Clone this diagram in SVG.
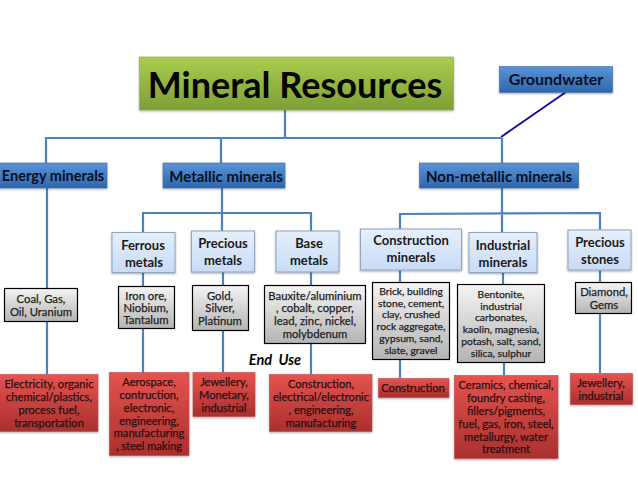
<svg xmlns="http://www.w3.org/2000/svg" width="638" height="479" viewBox="0 0 638 479">
<style>
text{font-family:Lato,"Liberation Sans",sans-serif;text-anchor:middle;fill:#111}
.blue{fill:url(#gb);stroke:#3f6da5;stroke-width:.6;filter:url(#sh)}
.lite{fill:url(#gl);stroke:#8ea4bf;stroke-width:1;filter:url(#sh)}
.grey{fill:url(#gg);stroke:#000;stroke-width:1.2}
.red{fill:url(#gr);stroke:#c04a48;stroke-width:.6;filter:url(#sh)}
.h{font-size:15px;font-weight:700;fill:#06101f}
.m{font-size:13px;font-weight:700;fill:#1a1a1a}
.g{font-size:11.300px;font-weight:400;fill:#222;stroke:#222;stroke-width:.25}
.s{font-size:10.300px;font-weight:400;fill:#222;stroke:#222;stroke-width:.25}
.r{font-size:11.100px;font-weight:400;fill:#2a1010;stroke:#2a1010;stroke-width:.25}
.c{fill:none;stroke:#4f81bd;stroke-width:2.2}
</style>
<defs>
<linearGradient id="gb" x1="0" y1="0" x2="0" y2="1"><stop offset="0" stop-color="#5b93d8"/><stop offset="1" stop-color="#2f66ab"/></linearGradient>
<linearGradient id="gl" x1="0" y1="0" x2="0" y2="1"><stop offset="0" stop-color="#e6effb"/><stop offset="1" stop-color="#c8dbf5"/></linearGradient>
<linearGradient id="gg" x1="0" y1="0" x2="0" y2="1"><stop offset="0" stop-color="#f4f4f4"/><stop offset="1" stop-color="#b4b4b4"/></linearGradient>
<linearGradient id="gr" x1="0" y1="0" x2="0" y2="1"><stop offset="0" stop-color="#e65350"/><stop offset="1" stop-color="#a92f2d"/></linearGradient>
<linearGradient id="gt" x1="0" y1="0" x2="0" y2="1"><stop offset="0" stop-color="#a9cd4e"/><stop offset="1" stop-color="#7f9f35"/></linearGradient>
<filter id="sh" x="-10%" y="-10%" width="120%" height="125%"><feDropShadow dx="0" dy="1" stdDeviation="1" flood-color="#000" flood-opacity=".35"/></filter>
</defs>
<rect width="638" height="479" fill="#fff"/>
<g id="connectors">
<path class="c" d="M285 108V138M46 163V138H501M221 138V163M502 138V163"/>
<path d="M566 92L501 137" fill="none" stroke="#10109a" stroke-width="2"/>
<path class="c" d="M222 188V232M143 232V213H311V232"/>
<path class="c" d="M502 188V232M400 229V214L600 213V230"/>
<path class="c" d="M47 188V288M47 322V374"/>
<path class="c" d="M143 272V286M143 329V373"/>
<path class="c" d="M223 272V285M223 330V372"/>
<path class="c" d="M311 272V285M311 343V374"/>
<path class="c" d="M400 270V282M400 359V378"/>
<path class="c" d="M503 272V284M504 362V375"/>
<path class="c" d="M600 270V282M600 314V373"/>
</g>
<g id="mineral-resources"><rect x="139.500" y="57" width="314" height="53" fill="url(#gt)" stroke="#8fae3e" stroke-width=".6" filter="url(#sh)"/><text x="295" y="98" style="font-size:36px;font-weight:700;fill:#050505">Mineral Resources</text></g>
<g id="groundwater"><rect class="blue" x="499.500" y="66.500" width="113" height="26"/><text class="h" x="556" y="85" style="font-size:16px">Groundwater</text></g>
<g id="energy-minerals"><rect class="blue" x="-3" y="163" width="110" height="25"/><text class="h" x="53" y="181" style="font-size:14.500px">Energy minerals</text></g>
<g id="metallic-minerals"><rect class="blue" x="163" y="163" width="122" height="25"/><text class="h" x="226" y="182">Metallic minerals</text></g>
<g id="non-metallic-minerals"><rect class="blue" x="419.500" y="163" width="159" height="25"/><text class="h" x="499" y="182">Non-metallic minerals</text></g>

<g id="ferrous-metals"><rect class="lite" x="112" y="232.500" width="63" height="40"/><text class="m" x="143" y="250">Ferrous</text><text class="m" x="144" y="267">metals</text></g>
<g id="precious-metals"><rect class="lite" x="191.500" y="231" width="63" height="41"/><text class="m" x="223" y="248">Precious</text><text class="m" x="223" y="265">metals</text></g>
<g id="base-metals"><rect class="lite" x="276" y="231" width="63" height="41"/><text class="m" x="309" y="248">Base</text><text class="m" x="309" y="265">metals</text></g>
<g id="construction-minerals"><rect class="lite" x="360.500" y="229" width="101" height="41"/><text class="m" x="411" y="245">Construction</text><text class="m" x="411" y="262">minerals</text></g>
<g id="industrial-minerals"><rect class="lite" x="469" y="232.500" width="68" height="40"/><text class="m" x="503" y="250">Industrial</text><text class="m" x="503" y="267">minerals</text></g>
<g id="precious-stones"><rect class="lite" x="568" y="230" width="63" height="40"/><text class="m" x="600" y="247">Precious</text><text class="m" x="600" y="264">stones</text></g>

<g id="energy-sources"><rect class="grey" x="4.500" y="288.500" width="73" height="33"/><text class="g" x="41" y="303">Coal, Gas,</text><text class="g" x="41" y="316">Oil, Uranium</text></g>
<g id="ferrous-sources"><rect class="grey" x="118.500" y="286.500" width="56" height="42"/><text class="g" x="146" y="300">Iron ore,</text><text class="g" x="146" y="312">Niobium,</text><text class="g" x="146" y="324">Tantalum</text></g>
<g id="precious-sources"><rect class="grey" x="192.500" y="285.500" width="56" height="45"/><text class="g" x="220" y="300">Gold,</text><text class="g" x="220" y="312">Silver,</text><text class="g" x="220" y="325">Platinum</text></g>
<g id="base-sources"><rect class="grey" x="264.500" y="285.500" width="101" height="58"/><text class="g" x="315" y="300">Bauxite/aluminium</text><text class="g" x="315" y="312">, cobalt, copper,</text><text class="g" x="315" y="325">lead, zinc, nickel,</text><text class="g" x="315" y="338">molybdenum</text></g>
<g id="construction-sources"><rect class="grey" x="372.500" y="282.500" width="77" height="77"/><text class="s" x="411" y="295">Brick, building</text><text class="s" x="411" y="307">stone, cement,</text><text class="s" x="411" y="318">clay, crushed</text><text class="s" x="411" y="330">rock aggregate,</text><text class="s" x="411" y="342">gypsum,  sand,</text><text class="s" x="411" y="354">slate, gravel</text></g>
<g id="industrial-sources"><rect class="grey" x="457.500" y="284.500" width="87" height="78"/><text class="s" x="501" y="298">Bentonite,</text><text class="s" x="501" y="310">industrial</text><text class="s" x="501" y="321">carbonates,</text><text class="s" x="501" y="333">kaolin, magnesia,</text><text class="s" x="501" y="345">potash, salt, sand,</text><text class="s" x="501" y="357">silica, sulphur</text></g>
<g id="stones-sources"><rect class="grey" x="575.500" y="282.500" width="56" height="31"/><text class="g" x="604" y="296">Diamond,</text><text class="g" x="604" y="309">Gems</text></g>

<g id="end-use-label"><text x="275" y="365" style="font-size:14.500px;font-weight:700;font-style:italic;fill:#050505" xml:space="preserve">End  Use</text></g>

<g id="energy-use"><rect class="red" x="-1" y="374.500" width="99" height="57"/><text class="r" x="49" y="388">Electricity, organic</text><text class="r" x="49" y="401">chemical/plastics,</text><text class="r" x="49" y="414">process fuel,</text><text class="r" x="49" y="427">transportation</text></g>
<g id="ferrous-use"><rect class="red" x="109.500" y="372.500" width="79.500" height="83"/><text class="r" x="149" y="386">Aerospace,</text><text class="r" x="149" y="399">contruction,</text><text class="r" x="149" y="412">electronic,</text><text class="r" x="149" y="425">engineering,</text><text class="r" x="149" y="437">manufacturing</text><text class="r" x="149" y="450">, steel making</text></g>
<g id="precious-use"><rect class="red" x="193" y="372.500" width="62" height="44"/><text class="r" x="224" y="386">Jewellery,</text><text class="r" x="224" y="399">Monetary,</text><text class="r" x="224" y="412">industrial</text></g>
<g id="base-use"><rect class="red" x="269.500" y="374.500" width="102.500" height="57"/><text class="r" x="321" y="388">Construction,</text><text class="r" x="321" y="401">electrical/electronic</text><text class="r" x="321" y="414">, engineering,</text><text class="r" x="321" y="427">manufacturing</text></g>
<g id="construction-use"><rect class="red" x="378.500" y="378.500" width="70.500" height="19"/><text class="r" x="413" y="392">Construction</text></g>
<g id="industrial-use"><rect class="red" x="454.500" y="375.500" width="103.500" height="83"/><text class="r" x="506" y="389">Ceramics, chemical,</text><text class="r" x="506" y="402">foundry casting,</text><text class="r" x="506" y="415">fillers/pigments,</text><text class="r" x="506" y="428">fuel, gas, iron, steel,</text><text class="r" x="506" y="441">metallurgy, water</text><text class="r" x="506" y="453">treatment</text></g>
<g id="stones-use"><rect class="red" x="570.500" y="373.500" width="62" height="31"/><text class="r" x="601" y="387">Jewellery,</text><text class="r" x="601" y="400">industrial</text></g>
</svg>
